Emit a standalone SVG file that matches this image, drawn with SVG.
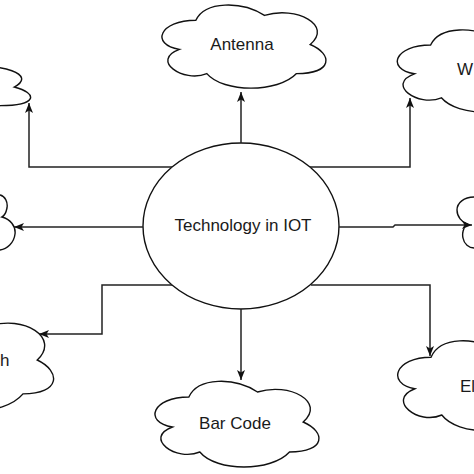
<svg xmlns="http://www.w3.org/2000/svg" xmlns:xlink="http://www.w3.org/1999/xlink" width="474" height="474" viewBox="0 0 474 474">
<style>
.shape{fill:#ffffff;stroke:#111111;stroke-width:1.4;}
.edge{fill:none;stroke:#222222;stroke-width:1.5;marker-end:url(#arr);}
.lbl{font-family:"Liberation Sans",Arial,sans-serif;font-size:17px;fill:#1a1a1a;}
</style>
<defs>
<path id="cloud" vector-effect="non-scaling-stroke" d="M25,25 C5,25 0,50 16,55 C0,66 18,90 31,80 C40,100 70,100 80,80 C100,80 100,60 87.5,50 C100,30 80,10 62.5,20 C50,5 30,5 25,25 Z"/>
<marker id="arr" viewBox="0 0 10 8" refX="10" refY="4" markerWidth="10" markerHeight="8" markerUnits="userSpaceOnUse" orient="auto">
<path d="M0,0 L10,4 L0,8 L2.5,4 Z" fill="#111111"/>
</marker>
</defs>
<rect width="474" height="474" fill="#ffffff"/>
<g id="center">
<ellipse class="shape" cx="241" cy="226" rx="98" ry="83"/>
<text class="lbl" x="243" y="231" text-anchor="middle">Technology in IOT</text>
</g>
<g id="antenna">
<use xlink:href="#cloud" class="shape" transform="translate(150.1,-4) scale(1.83,0.97)"/>
<text class="lbl" x="242" y="50" text-anchor="middle">Antenna</text>
</g>
<g id="wifi">
<use xlink:href="#cloud" class="shape" transform="translate(385.6,21) scale(1.8,0.96)"/>
<text class="lbl" x="457" y="75">W</text>
</g>
<g id="topleft">
<use xlink:href="#cloud" class="shape" transform="translate(-152,56) scale(1.9,0.62)"/>
</g>
<g id="leftmid">
<path class="shape" d="M-2,195 L0,195 C5,196 8,202 7,208 C6,213 4,216 2,217 C10,219 16,226 15,234 C14,243 7,249 0,250 L-2,250 Z"/>
</g>
<g id="rightmid">
<path class="shape" d="M476,197 L474,197 C464,197 457,203 457,210 C457,217 462,222 467,224 C463,228 462,234 463,238 C464,244 469,248 474,248 L476,248 Z"/>
</g>
<g id="bottomleft">
<use xlink:href="#cloud" class="shape" transform="translate(-129,303.5) scale(1.9,1.13)"/>
<text class="lbl" x="0" y="366">h</text>
</g>
<g id="barcode">
<use xlink:href="#cloud" class="shape" transform="translate(143.1,372) scale(1.83,1.0)"/>
<text class="lbl" x="235" y="429" text-anchor="middle">Bar Code</text>
</g>
<g id="el">
<use xlink:href="#cloud" class="shape" transform="translate(386,331) scale(1.8,1.05)"/>
<text class="lbl" x="460" y="392">El</text>
</g>
<g id="connectors">
<path class="edge" d="M241,143 V92"/>
<path class="edge" d="M310,167 H410 V98"/>
<path class="edge" d="M172,167 H29 V103"/>
<path class="edge" d="M143,227 H14"/>
<path class="edge" d="M339,227 H393 L395,225 H472"/>
<path class="edge" d="M172,285 H102 V334 H39"/>
<path class="edge" d="M241,309 V380"/>
<path class="edge" d="M311,285 H430 V356"/>
</g>
</svg>
